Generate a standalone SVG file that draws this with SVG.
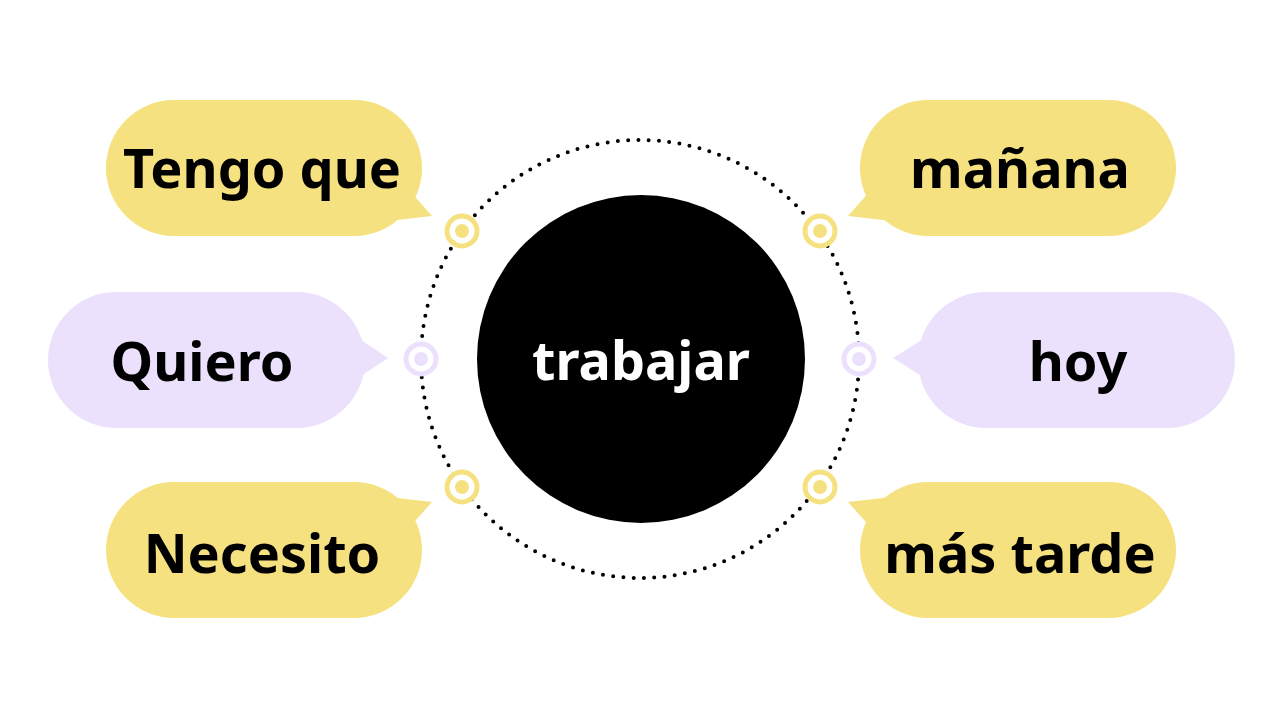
<svg xmlns="http://www.w3.org/2000/svg" width="1280" height="720" viewBox="0 0 1280 720">
<style>
.y{fill:#f5e17f}.p{fill:#ebe1fd}
.t{font-family:"Noto Sans","DejaVu Sans",sans-serif;font-weight:700;font-size:54px;fill:#000;text-anchor:middle}
.ry{fill:#f5e17f;stroke:#f5e17f}.rp{fill:#ebe1fd;stroke:#ebe1fd}
</style>
<rect width="1280" height="720" fill="#fff"/>
<g id="connectors">
<circle cx="640" cy="359" r="219" fill="none" stroke="#000" stroke-width="4" stroke-linecap="round" stroke-dasharray="0 10.3"/>
</g>
<g id="center"><circle cx="641" cy="359" r="164" fill="#000"/><text class="t" x="641" y="380" style="fill:#fff">trabajar</text></g>
<g id="n1"><rect class="y" x="106" y="100" width="316" height="136" rx="68"/><path class="y" d="M400 180 L432 216 L380 222 Z"/><text class="t" x="262" y="188">Tengo que</text>
<circle cx="462" cy="231" r="15" fill="#fff" stroke="#f5e17f" stroke-width="5"/><circle cx="462" cy="231" r="7" fill="#f5e17f"/></g>
<g id="n2"><rect class="p" x="48" y="292" width="317" height="136" rx="68"/><path class="p" d="M355 336 L388 358 L355 380 Z"/><text class="t" x="202" y="381">Quiero</text>
<circle cx="421" cy="359" r="15" fill="#fff" stroke="#ebe1fd" stroke-width="5"/><circle cx="421" cy="359" r="7" fill="#ebe1fd"/></g>
<g id="n3"><rect class="y" x="106" y="482" width="316" height="136" rx="68"/><path class="y" d="M400 538 L432 502 L380 496 Z"/><text class="t" x="262" y="573">Necesito</text>
<circle cx="462" cy="487" r="15" fill="#fff" stroke="#f5e17f" stroke-width="5"/><circle cx="462" cy="487" r="7" fill="#f5e17f"/></g>
<g id="n4"><rect class="y" x="860" y="100" width="316" height="136" rx="68"/><path class="y" d="M880 180 L848 216 L900 222 Z"/><text class="t" x="1020" y="188">mañana</text>
<circle cx="820" cy="231" r="15" fill="#fff" stroke="#f5e17f" stroke-width="5"/><circle cx="820" cy="231" r="7" fill="#f5e17f"/></g>
<g id="n5"><rect class="p" x="918" y="292" width="317" height="136" rx="68"/><path class="p" d="M928 336 L893 358 L928 380 Z"/><text class="t" x="1078" y="381">hoy</text>
<circle cx="859" cy="359" r="15" fill="#fff" stroke="#ebe1fd" stroke-width="5"/><circle cx="859" cy="359" r="7" fill="#ebe1fd"/></g>
<g id="n6"><rect class="y" x="860" y="482" width="316" height="136" rx="68"/><path class="y" d="M880 538 L848 502 L900 496 Z"/><text class="t" x="1020" y="573">más tarde</text>
<circle cx="820" cy="487" r="15" fill="#fff" stroke="#f5e17f" stroke-width="5"/><circle cx="820" cy="487" r="7" fill="#f5e17f"/></g>
</svg>
